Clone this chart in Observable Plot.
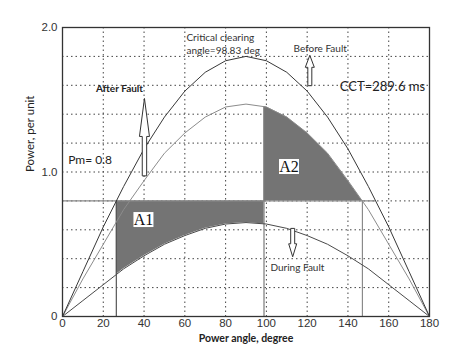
<!DOCTYPE html>
<html><head><meta charset="utf-8">
<script src="https://cdn.jsdelivr.net/npm/d3@7"></script>
<script src="https://cdn.jsdelivr.net/npm/@observablehq/plot@0.6"></script>
<style>body{margin:0;background:#fff;} #chart svg{display:block;}</style>
</head><body><div id="chart"></div>
<script>
// Power-angle curves (degrees, per unit)
const angles      = [0, 10, 20, 30, 40, 50, 60, 70, 80, 90, 100, 110, 120, 130, 140, 150, 160, 170, 180];
const beforeFault = [0, 0.31, 0.62, 0.90, 1.16, 1.38, 1.56, 1.69, 1.77, 1.80, 1.77, 1.69, 1.56, 1.38, 1.16, 0.90, 0.62, 0.31, 0];
const afterFault  = [0, 0.26, 0.50, 0.74, 0.94, 1.13, 1.27, 1.38, 1.45, 1.47, 1.45, 1.38, 1.27, 1.13, 0.94, 0.74, 0.50, 0.26, 0];
const duringFault = [0, 0.11, 0.22, 0.33, 0.42, 0.50, 0.56, 0.61, 0.64, 0.65, 0.64, 0.61, 0.56, 0.50, 0.42, 0.33, 0.22, 0.11, 0];

const Pm = 0.8;
const delta0 = 26.4;      // initial angle
const deltaC = 98.83;     // critical clearing angle
const deltaMax = 147.1;   // maximum angle
const pmLineEnd = 153.6;  // Pm line ends at before-fault curve

// Area A1 (accelerating): between Pm and during-fault curve
const a1Angles = [26.4, 30, 40, 50, 60, 70, 80, 90, 98.83];
const a1Lower  = [0.29, 0.33, 0.42, 0.50, 0.56, 0.61, 0.64, 0.65, 0.64];
// Area A2 (decelerating): between after-fault curve and Pm
const a2Angles = [98.83, 100, 110, 120, 130, 140, 147.1];
const a2Upper  = [1.45, 1.45, 1.38, 1.27, 1.13, 0.94, 0.80];

const xTicks = [0, 20, 40, 60, 80, 100, 120, 140, 160, 180];
const yTicks = [0, 1, 2];
const yTickLabels = ["0", "1.0", "2.0"];
const xGrid = [20, 40, 60, 80, 100, 120, 140, 160];
const yGrid = [0.2, 0.4, 0.6, 0.8, 1.0, 1.2, 1.4, 1.6, 1.8];

const xLabel = "Power angle, degree";
const yLabel = "Power, per unit";

function arrowShape(headLen, headHalf, shaftHalf) {
  return {
    draw(context, l) {
      const h = Math.min(headLen, l);
      context.moveTo(-shaftHalf, 0);
      context.lineTo(-shaftHalf, -(l - h));
      context.lineTo(-headHalf, -(l - h));
      context.lineTo(0, -l);
      context.lineTo(headHalf, -(l - h));
      context.lineTo(shaftHalf, -(l - h));
      context.lineTo(shaftHalf, 0);
      context.closePath();
    }
  };
}
function boxSymbol(w, h) {
  return {draw(context) { context.rect(-w / 2, -h / 2, w, h); }};
}

const sans = "Lato, 'Open Sans', sans-serif";
const serif = "'Liberation Serif', 'DejaVu Serif', serif";

const chart = Plot.plot({
  width: 474,
  height: 355,
  marginLeft: 62,
  marginRight: 45,
  marginTop: 27,
  marginBottom: 39,
  x: {domain: [0, 180]},
  y: {domain: [0, 2]},
  style: {fontFamily: "'Liberation Sans', Arial, sans-serif", fontSize: "12px", color: "#222", background: "#fff"},
  marks: [
    Plot.ruleX(xGrid, {stroke: "#444", strokeDasharray: "1.5,3", strokeWidth: 1}),
    Plot.ruleY(yGrid, {stroke: "#444", strokeDasharray: "1.5,3", strokeWidth: 1}),
    Plot.areaY(a1Lower, {x: a1Angles, y1: a1Lower, y2: Pm, fill: "#747474"}),
    Plot.areaY(a2Upper, {x: a2Angles, y1: Pm, y2: a2Upper, fill: "#747474"}),
    Plot.ruleY([Pm], {x1: 0, x2: pmLineEnd, stroke: "#8a8a8a", strokeWidth: 1.2}),
    Plot.ruleX([delta0], {y1: 0, y2: Pm, stroke: "#555", strokeWidth: 1.2}),
    Plot.ruleX([deltaC], {y1: 0, y2: a2Upper[0], stroke: "#7a7a7a", strokeWidth: 1.2}),
    Plot.ruleX([deltaMax], {y1: 0, y2: Pm, stroke: "#8a8a8a", strokeWidth: 1.2}),
    Plot.lineY(duringFault, {x: angles, stroke: "#4a4a4a", strokeWidth: 1}),
    Plot.lineY(afterFault, {x: angles, stroke: "#8c8c8c", strokeWidth: 1}),
    Plot.lineY(beforeFault, {x: angles, stroke: "#383838", strokeWidth: 1}),
    Plot.frame({stroke: "#333", strokeWidth: 1.3}),
    Plot.axisX({ticks: xTicks, tickSize: 0, tickPadding: 2, label: null, fill: "#333", fontSize: 11.5}),
    Plot.axisY({ticks: yTicks, tickFormat: d => yTickLabels[yTicks.indexOf(d)], tickSize: 0, tickPadding: 5, label: null, fill: "#333", fontSize: 11.5}),
    Plot.text([xLabel], {frameAnchor: "bottom", dy: 22, lineAnchor: "middle", fontWeight: "bold", fontFamily: sans, fontSize: 10.5}),
    Plot.text([yLabel], {frameAnchor: "left", dx: -32, rotate: -90, fontFamily: sans, fontSize: 11.5}),
    // arrows
    Plot.vector([0], {x: 121.3, y: 1.6, length: 30, rotate: 0, anchor: "start", shape: arrowShape(12, 4.5, 2), fill: "white", stroke: "#333", strokeWidth: 1}),
    Plot.vector([0], {x: 40.2, y: 0.976, length: 77, rotate: 0, anchor: "start", shape: arrowShape(38, 5, 2.2), fill: "white", stroke: "#333", strokeWidth: 1}),
    Plot.vector([0], {x: 112.9, y: 0.607, length: 28, rotate: 180, anchor: "start", shape: arrowShape(13, 4, 2), fill: "white", stroke: "#333", strokeWidth: 1}),
    // text annotations
    Plot.text(["Critical clearing"], {x: 60.8, y: 1.927, textAnchor: "start", fontFamily: sans, fontSize: 10, fill: "#333"}),
    Plot.text(["angle=98.83 deg"], {x: 60.8, y: 1.837, textAnchor: "start", fontFamily: sans, fontSize: 10, fill: "#333"}),
    Plot.text(["Before Fault"], {x: 113.3, y: 1.851, textAnchor: "start", fontFamily: sans, fontSize: 10, fill: "#333"}),
    Plot.text(["After Fault"], {x: 28.0, y: 1.576, fontWeight: "bold", fontFamily: sans, fontSize: 10, fill: "#222"}),
    Plot.text(["CCT=289.6 ms"], {x: 136.0, y: 1.592, textAnchor: "start", fontFamily: sans, fontSize: 13, fill: "#222"}),
    Plot.text(["Pm= 0.8"], {x: 2.8, y: 1.08, textAnchor: "start", fontFamily: sans, fontSize: 12, fill: "#222"}),
    Plot.text(["During Fault"], {x: 102.0, y: 0.339, textAnchor: "start", fontFamily: sans, fontSize: 10, fill: "#333"}),
    Plot.dot([0], {x: 39.7, y: 0.671, symbol: boxSymbol(20, 15), fill: "white", stroke: "none"}),
    Plot.dot([0], {x: 111.1, y: 1.038, symbol: boxSymbol(20, 15), fill: "white", stroke: "none"}),
    Plot.text(["A1"], {x: 39.7, y: 0.671, fontFamily: serif, fontSize: 16, fill: "#111"}),
    Plot.text(["A2"], {x: 111.1, y: 1.038, fontFamily: serif, fontSize: 16, fill: "#111"})
  ]
});
document.getElementById("chart").appendChild(chart);
</script>
</body></html>
